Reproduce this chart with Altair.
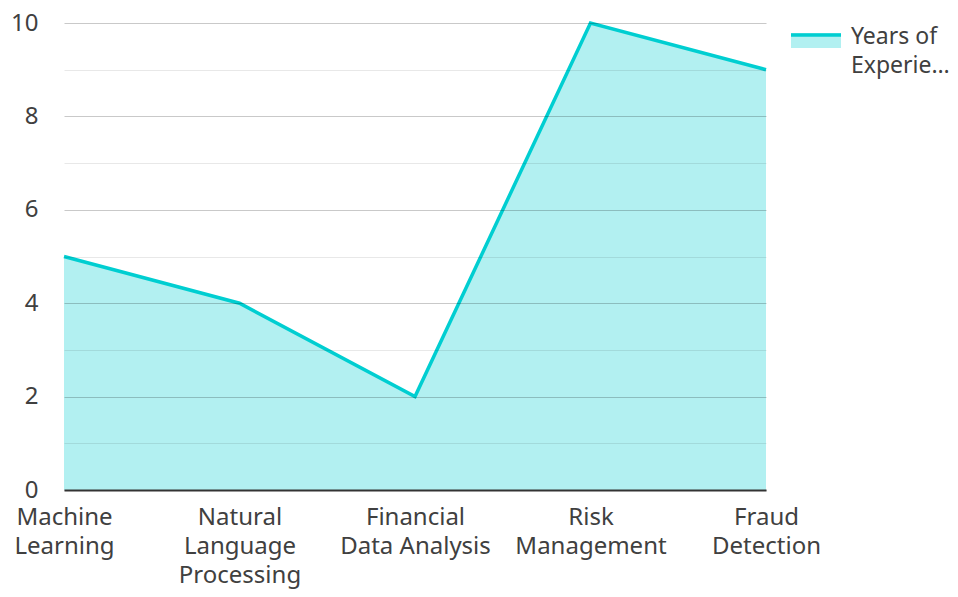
import altair as alt
import pandas as pd

categories = ["Machine Learning", "Natural Language Processing", "Financial Data Analysis",
              "Risk Management", "Fraud Detection"]
years = [5, 4, 2, 10, 9]
label_lines = [["Machine", "Learning"], ["Natural", "Language", "Processing"],
               ["Financial", "Data Analysis"], ["Risk", "Management"], ["Fraud", "Detection"]]
series_name = "Years of Experience"
legend_label = "Years of\nExperie…"
y_ticks = list(range(0, 11))

TEAL = "#00CED1"
FONT = "Noto Sans"
TXT = "#404040"
FS = 24

df = pd.DataFrame({"skill": categories, "years": years})
leg = pd.DataFrame({"series": [series_name], "label": [legend_label]})

expr = "datum.label"
for c, lines in reversed(list(zip(categories, label_lines))):
    arr = "[" + ",".join(f"'{l}'" for l in lines) + "]"
    expr = f"datum.value == '{c}' ? {arr} : ({expr})"

x = alt.X("skill:N", sort=categories, scale=alt.Scale(type="point", padding=0),
          axis=alt.Axis(title=None, labelAngle=0, labelExpr=expr, labelFontSize=FS,
                        labelFont=FONT, labelColor=TXT, labelLineHeight=29,
                        domainColor="#333333", domainWidth=2, ticks=False,
                        labelPadding=15, grid=False, zindex=1, labelBound=False,
                        labelOverlap=False))
y = alt.Y("years:Q", scale=alt.Scale(domain=[0, 10], nice=False),
          axis=alt.Axis(title=None, values=y_ticks,
                        labelExpr="datum.value % 2 == 0 ? datum.label : ''",
                        labelFontSize=FS, labelFont=FONT, labelColor=TXT,
                        gridColor="#000000",
                        gridOpacity={"condition": {"test": "datum.value % 2 == 0", "value": 0.21},
                                     "value": 0.09},
                        domain=False, ticks=False, labelPadding=26, zindex=1))

base = alt.Chart(df).encode(x=x, y=y)
area = base.mark_area(color=TEAL, opacity=0.3)
line = base.mark_line(color=TEAL, strokeWidth=3.5)

leg_base = alt.Chart(leg)
leg_rect = leg_base.mark_rect(color=TEAL, opacity=0.3).encode(
    x=alt.value(727), x2=alt.value(777), y=alt.value(10), y2=alt.value(25))
leg_rule = leg_base.mark_rule(color=TEAL, strokeWidth=3.5).encode(
    x=alt.value(727), x2=alt.value(777), y=alt.value(12))
leg_text = leg_base.mark_text(align="left", baseline="alphabetic", fontSize=23, font=FONT,
                              color=TXT, lineBreak="\n", lineHeight=29).encode(
    x=alt.value(787), y=alt.value(21), text="label:N")

chart = alt.layer(area, line, leg_rect, leg_rule, leg_text).properties(
    width=702, height=467,
    autosize=alt.AutoSizeParams(type="none"),
    padding={"left": 56, "top": 15, "right": 184, "bottom": 99},
).configure_view(stroke=None)

chart.save("out.html", embed_options={"renderer": "svg", "actions": False})
